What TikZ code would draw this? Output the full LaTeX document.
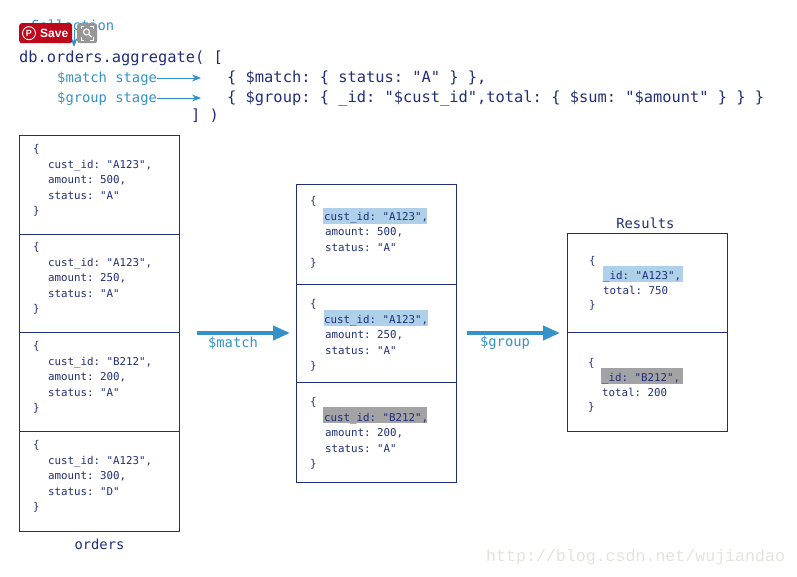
\documentclass[tikz,border=0pt]{standalone}
\usepackage{fontspec}
\setmainfont{Liberation Sans}
\setmonofont{DejaVu Sans Mono}
\usetikzlibrary{arrows.meta,positioning}
\definecolor{mgnavy}{RGB}{32,46,120}
\definecolor{mgblue}{RGB}{52,146,200}
\definecolor{mghigh}{RGB}{174,208,232}
\definecolor{mggray}{RGB}{163,163,165}
\definecolor{pinred}{RGB}{189,8,28}
\definecolor{pingray}{RGB}{150,150,150}
\definecolor{wmark}{RGB}{228,228,220}
\begin{document}
\begin{tikzpicture}[x=1pt,y=-1pt,
  code/.style={anchor=mid west, inner sep=0pt, mgnavy, font=\ttfamily\fontsize{15.38}{18}\selectfont},
  label/.style={anchor=mid west, inner sep=0pt, mgblue, font=\ttfamily\fontsize{13.8}{16}\selectfont},
  title/.style={inner sep=0pt, mgnavy, font=\ttfamily\fontsize{13.8}{16}\selectfont},
  docbox/.style={draw=mgnavy, line width=0.9pt, minimum width=160pt, inner sep=0pt, anchor=north west},
  doctext/.style={anchor=north west, inner sep=0pt, align=left, mgnavy, font=\ttfamily\fontsize{10.8}{15.6}\selectfont},
  restext/.style={doctext, font=\ttfamily\fontsize{10.8}{14.8}\selectfont},
  hibox/.style={anchor=north west, inner sep=0pt, minimum height=16pt},
  thin arrow/.style={-{Stealth[length=9pt,width=7pt]}, mgblue, line width=0.8pt},
  big arrow/.style={-{Stealth[length=17pt,width=14pt,inset=0pt]}, mgblue, line width=4pt}]
\useasboundingbox (0,0) rectangle (797,576);
% Header
\node[label] (coll) at (31,28) {Collection};
\node[code] (aggr) at (19,60) {db.orders.aggregate( [};
\coordinate (collfoot) at (74,30);
\coordinate (aggrtop) at (74,47);
\draw[thin arrow] (collfoot) -- (aggrtop);
\node[label] (matchlbl) at (57,80) {\$match stage};
\node[label] (grouplbl) at (57,100) {\$group stage};
\node[code] (matchcode) at (227,80) {\{ \$match: \{ status: "A" \} \},};
\node[code] (groupcode) at (227,100) {\{ \$group: \{ \_id: "\$cust\_id",total: \{ \$sum: "\$amount" \} \} \}};
\node[code] (closing) at (191,118) {] )};
\coordinate (matchend) at (201,78);
\coordinate (groupend) at (201,98);
\draw[thin arrow] (matchlbl.east |- matchend) -- (matchend);
\draw[thin arrow] (grouplbl.east |- groupend) -- (groupend);
% Pin button
\node[fill=pinred, rounded corners=2.5pt, minimum width=53pt, minimum height=20pt, inner sep=0pt, anchor=north west] (pinsave) at (19,23) {};
\node[fill=pingray, rounded corners=2.5pt, minimum width=20pt, minimum height=20pt, inner sep=0pt, anchor=north west] (pinzoom) at (77,23) {};
\node[draw=white, circle, line width=0.9pt, minimum size=13pt, inner sep=0pt, text=white, font=\bfseries\fontsize{9}{9}\selectfont] (pinlogo) at (pinsave.west) [xshift=10pt] {P};
\node[inner sep=0pt, text=white, font=\bfseries\fontsize{12}{12}\selectfont, anchor=west] (pintext) at (40,33) {Save};
\node[draw=white, circle, line width=1.1pt, minimum size=6pt, inner sep=0pt] (pinlens) at (86.5,32) {};
\draw[white, line width=1.1pt] (pinlens.south east) -- ++(2.5,2.5);
\draw[white, line width=0.7pt] (81,29) |- (84,26) (90,26) -| (93,29) (93,37) |- (90,40) (84,40) -| (81,37);
% Collection
\node[docbox, minimum height=99pt] (orderA) at (19,135) {};
\node[docbox, minimum height=98pt] (orderB) at (19,234) {};
\node[docbox, minimum height=99pt] (orderC) at (19,332) {};
\node[docbox, minimum height=100pt] (orderD) at (19,431) {};
\foreach \nm/\py/\txt in {tA/144/{cust\_id: "A123",\\\hspace*{15pt}amount: 500,\\\hspace*{15pt}status: "A"},
    tB/242/{cust\_id: "A123",\\\hspace*{15pt}amount: 250,\\\hspace*{15pt}status: "A"},
    tC/341/{cust\_id: "B212",\\\hspace*{15pt}amount: 200,\\\hspace*{15pt}status: "A"},
    tD/440/{cust\_id: "A123",\\\hspace*{15pt}amount: 300,\\\hspace*{15pt}status: "D"}}
  \node[doctext] (\nm) at (33,\py) {\{\\\hspace*{15pt}\txt\\\}};
\node[title, below=7pt of orderD.south] (orderslbl) {orders};
% After $match
\node[docbox, minimum height=100pt] (matchA) at (296,184) {};
\node[docbox, minimum height=98pt] (matchB) at (296,284) {};
\node[docbox, minimum height=100pt] (matchC) at (296,382) {};
\node[hibox, fill=mghigh, minimum width=104pt] (hiA) at (323,208) {};
\node[hibox, fill=mghigh, minimum width=104pt] (hiB) at (324,310) {};
\node[hibox, fill=mggray, minimum width=104pt] (hiC) at (323,407) {};
\foreach \nm/\py/\txt in {uA/196/{cust\_id: "A123",\\\hspace*{15pt}amount: 500,\\\hspace*{15pt}status: "A"},
    uB/299/{cust\_id: "A123",\\\hspace*{15pt}amount: 250,\\\hspace*{15pt}status: "A"},
    uC/397/{cust\_id: "B212",\\\hspace*{15pt}amount: 200,\\\hspace*{15pt}status: "A"}}
  \node[doctext] (\nm) at (310,\py) {\{\\\hspace*{14pt}\txt\\\}};
% Results
\node[docbox, minimum height=99pt] (resA) at (567,233) {};
\node[docbox, minimum height=99pt] (resB) at (567,332) {};
\node[title, above=4pt of resA.north, xshift=-2pt] (reslbl) {Results};
\node[hibox, fill=mghigh, minimum width=80pt] (hiD) at (603,266) {};
\node[hibox, fill=mggray, minimum width=82pt] (hiE) at (601,368) {};
\node[restext] (vA) at (589,256) {\{\\\hspace*{14pt}\_id: "A123",\\\hspace*{14pt}total: 750\\\}};
\node[restext] (vB) at (588,358) {\{\\\hspace*{14pt}\_id: "B212",\\\hspace*{14pt}total: 200\\\}};
% Stage arrows
\coordinate (matchfrom) at (197,333);
\coordinate (matchto) at (290,333);
\coordinate (groupfrom) at (467,333);
\coordinate (groupto) at (560,333);
\draw[big arrow] (matchfrom) -- (matchto);
\draw[big arrow] (groupfrom) -- (groupto);
\node[label, anchor=center] (matchname) at (233,343) {\$match};
\node[label, anchor=center] (groupname) at (505,343) {\$group};
% Watermark
\node[anchor=mid west, inner sep=0pt, wmark, font=\fontspec{Liberation Mono}\fontsize{16.6}{18}\selectfont] (wm) at (486,559) {http://blog.csdn.net/wujiandao};
\end{tikzpicture}
\end{document}
